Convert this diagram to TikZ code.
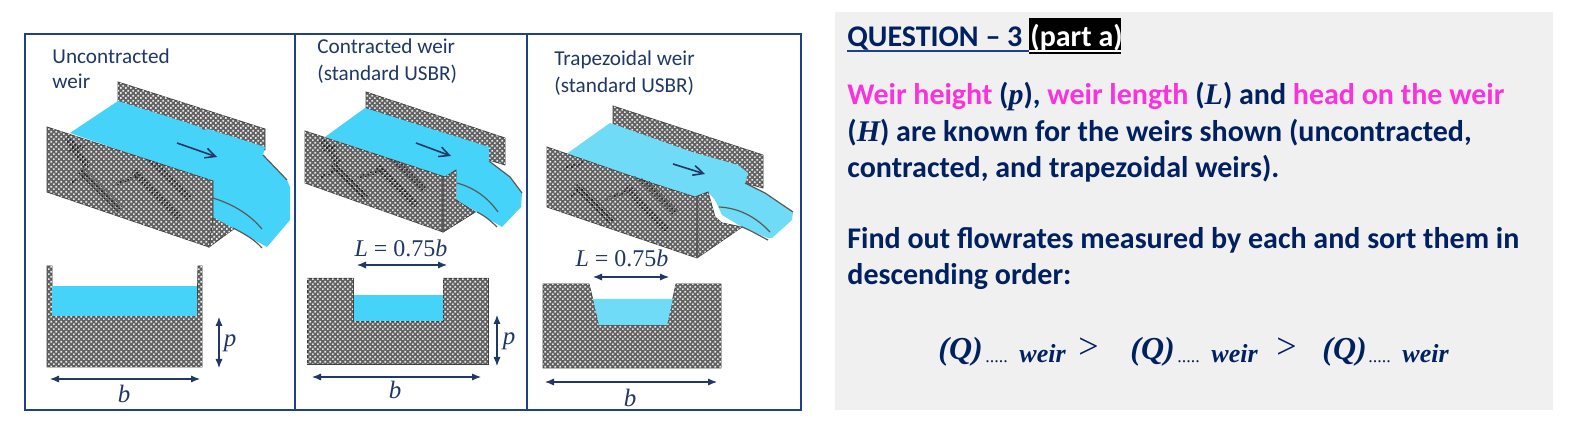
\documentclass[tikz,border=0pt]{standalone}
\usepackage{fontspec}
\usetikzlibrary{patterns,arrows.meta}
\setmainfont{Carlito}
\newfontfamily\mathfam{Liberation Serif}
\definecolor{navy}{HTML}{002060}
\definecolor{labelc}{HTML}{1F3864}
\definecolor{framec}{HTML}{1F3F86}
\definecolor{magentac}{HTML}{FA32DC}
\definecolor{panelc}{HTML}{F0F0F0}
\definecolor{waterA}{HTML}{45D3FA}
\definecolor{waterB}{HTML}{6FDBF6}
\definecolor{wallbase}{HTML}{626262}
\pgfdeclarepatternformonly{weirdots}{\pgfpointorigin}{\pgfqpoint{2.4pt}{2.4pt}}{\pgfqpoint{2.4pt}{2.4pt}}{
  \pgfpathrectangle{\pgfqpoint{0pt}{0pt}}{\pgfqpoint{.9pt}{.9pt}}
  \pgfpathrectangle{\pgfqpoint{1.2pt}{1.2pt}}{\pgfqpoint{.9pt}{.9pt}}
  \pgfusepath{fill}}
\tikzset{
  wall/.style={fill=wallbase,postaction={pattern=weirdots,pattern color=white!92!black},draw=black!75,line width=.4pt},
  blotfill/.style={pattern=weirdots,pattern color=black!85},
  waterI/.style={fill=waterA,draw=none},
  waterII/.style={fill=waterB,draw=none},
  nappe/.style={draw=black!65,line width=.6pt},
  flow/.style={draw=labelc,line width=.8pt,-{Straight Barb[length=5pt,width=5pt]}},
  dim/.style={draw=labelc,line width=.55pt,{Latex[length=4.5pt,width=3.6pt]}-{Latex[length=4.5pt,width=3.6pt]}},
  lbl/.style={anchor=base west,inner sep=0,text=labelc,font=\fontsize{10.6}{12}\selectfont},
  sym/.style={anchor=base,inner sep=0,text=labelc,font=\mathfam\fontsize{12}{13}\selectfont},
  symi/.style={anchor=base,inner sep=0,text=labelc,font=\mathfam\itshape\fontsize{12.5}{13}\selectfont},
  body/.style={anchor=base west,inner sep=0,text=navy,font=\bfseries\fontsize{15}{17}\selectfont},
  frameline/.style={draw=framec,line width=.65pt}
}
\newcommand{\mi}[1]{{\mathfam\bfseries\itshape #1}}
\newcommand{\mg}[1]{\textcolor{magentac}{#1}}
\newcommand{\wband}[4]{\fill[blotfill] ({#1-5},{#2}) -- ({#1},{#2-5}) -- ({#3+5},{#4}) -- ({#3},{#4+5}) -- cycle;}
\begin{document}
\begin{tikzpicture}[x=0.5pt,y=-0.5pt]
\useasboundingbox (0,0) rectangle (1573,437);
\fill[white] (0,0) rectangle (1573,437);
% right panel
\fill[panelc] (835,12) rectangle (1553,410);
% frames
\draw[frameline] (25,34) rectangle (801,410);
\draw[frameline] (295,34) -- (295,410);
\draw[frameline] (527,34) -- (527,410);
\node[lbl] (t1a) at (52,64) {Uncontracted};
\node[lbl] (t1b) at (52,89) {weir};
\node[lbl] (t2a) at (317,54) {Contracted weir};
\node[lbl] (t2b) at (317,81) {(standard USBR)};
\node[lbl] (t3a) at (554,66) {Trapezoidal weir};
\node[lbl] (t3b) at (554,93) {(standard USBR)};

% ---- weir 1
\draw[wall] (118,82) -- (265,129) -- (265,150) -- (118,104) -- cycle;
\draw[wall] (209,247) -- (235,228) -- (213,216) -- cycle;
\fill[waterI] (70,133) -- (118,101) -- (200,127) -- (203,130) -- (208,129) -- (265,147) -- (263,155) -- (287,180) -- (290,187) -- (290,220) -- (267,247) -- (233,228) -- (213,217) -- (213,182) -- cycle;
\draw[nappe] (263,155) -- (287,180);
\draw[nappe] (213,198) .. controls (235,205) and (250,215) .. (262,229);
\draw[nappe] (233,228) .. controls (245,234) and (255,240) .. (262,248);
\draw[wall] (47,127) -- (213,181) -- (213,218) -- (209,247) -- (47,192) -- cycle;
\begin{scope}
\clip (47,127) -- (213,181) -- (213,218) -- (209,247) -- (47,192) -- cycle;
\wband{70}{153}{83}{143}\wband{70}{187}{83}{173}\wband{83}{173}{117}{207}\wband{117}{187}{137}{173}\wband{137}{173}{177}{217}\wband{137}{147}{187}{197}\wband{70}{140}{85}{165}
\end{scope}
\coordinate (f1a) at (177,143); \coordinate (f1b) at (217,157);
\draw[flow] (f1a) -- (f1b);
\draw[wall] (47,266) -- (52,266) -- (52,316) -- (197,316) -- (198,266) -- (202,266) -- (202,367) -- (47,367) -- cycle;
\fill[waterI] (52,286) rectangle (197,316);
\coordinate (p1a) at (219,317); \coordinate (p1b) at (219,368);
\draw[dim] (p1a) -- (p1b);
\node[symi] (p1) at (230,347) {p};
\coordinate (b1a) at (50,379); \coordinate (b1b) at (200,379);
\draw[dim] (b1a) -- (b1b);
\node[symi] (b1) at (124,403) {b};

% ---- weir 2
\draw[wall] (366,92) -- (505,138) -- (505,165) -- (489,160) -- (489,148) -- (366,108) -- cycle;
\draw[wall] (443,232) -- (475,212) -- (456,200) -- (443,200) -- cycle;
\fill[waterI] (325,137) -- (365,108) -- (489,147) -- (489,161) -- (510,177) -- (522,193) -- (521,207) -- (502,227) -- (477,212) -- (457,200) -- (456,170) -- (445,177) -- cycle;
\draw[nappe] (489,161) -- (510,177) -- (522,193);
\draw[nappe] (457,183) .. controls (475,188) and (488,198) .. (498,212);
\draw[nappe] (477,212) .. controls (485,216) and (491,221) .. (497,227);
\draw[wall] (305,131) -- (445,177) -- (456,170) -- (456,200) -- (475,212) -- (443,232) -- (305,183) -- cycle;
\draw[nappe] (443,177) -- (443,232);
\begin{scope}
\clip (305,131) -- (445,177) -- (443,232) -- (305,183) -- cycle;
\wband{324}{152}{335}{144}\wband{324}{179}{335}{168}\wband{335}{168}{363}{195}\wband{363}{179}{380}{168}\wband{380}{168}{413}{203}\wband{380}{147}{421}{187}\wband{324}{141}{337}{161}
\end{scope}
\coordinate (f2a) at (416,143); \coordinate (f2b) at (451,156);
\draw[flow] (f2a) -- (f2b);
\node[sym] (L2) at (401,257) {\textit{L} = 0.75\textit{b}};
\coordinate (L2a) at (357,265); \coordinate (L2b) at (447,265);
\draw[dim] (L2a) -- (L2b);
\draw[wall] (307,278) -- (353,278) -- (353,321) -- (443,321) -- (443,278) -- (488,278) -- (488,364) -- (307,364) -- cycle;
\fill[waterI] (353.5,295) rectangle (443,321);
\coordinate (p2a) at (497,315); \coordinate (p2b) at (497,366);
\draw[dim] (p2a) -- (p2b);
\node[symi] (p2) at (509,345) {p};
\coordinate (b2a) at (312,377); \coordinate (b2b) at (481,377);
\draw[dim] (b2a) -- (b2b);
\node[symi] (b2) at (395,399) {b};

% ---- weir 3
\draw[wall] (613,106) -- (763,155) -- (763,188) -- (745,183) -- (613,133) -- cycle;
\fill[waterII] (565,155) -- (610,123) -- (692,152) -- (738,165) -- (748,173) -- (745,183) -- (765,193) -- (793,212) -- (792,220) -- (772,238) -- (768,238) -- (742,227) -- (722,215) -- (715,200) -- (708,192) -- (695,197) -- (648,182) -- cycle;
\draw[nappe] (745,183) -- (765,193) -- (793,212);
\draw[nappe] (719,207) .. controls (738,208) and (755,216) .. (770,232);
\draw[nappe] (742,227) .. controls (752,231) and (760,236) .. (768,240);
\draw[wall] (547,147) -- (648,182) -- (695,197) -- (708,192) -- (715,217) -- (722,223) -- (742,227) -- (697,258) -- (547,207) -- cycle;
\draw[nappe] (697,197) -- (697,258);
\begin{scope}
\clip (547,147) -- (697,197) -- (697,258) -- (547,207) -- cycle;
\wband{568}{170}{579}{161}\wband{568}{201}{579}{188}\wband{579}{188}{610}{219}\wband{610}{201}{628}{188}\wband{628}{188}{664}{228}\wband{628}{165}{673}{210}
\end{scope}
\coordinate (f3a) at (673,164); \coordinate (f3b) at (705,174);
\draw[flow] (f3a) -- (f3b);
\node[sym] (L3) at (622,267) {\textit{L} = 0.75\textit{b}};
\coordinate (L3a) at (593,277); \coordinate (L3b) at (669,277);
\draw[dim] (L3a) -- (L3b);
\draw[wall] (543,284) -- (589,284) -- (599,325) -- (667,325) -- (676,284) -- (721,284) -- (721,368) -- (543,368) -- cycle;
\fill[waterII] (593,299) -- (673,299) -- (667,325) -- (599,325) -- cycle;
\coordinate (b3a) at (545,382); \coordinate (b3b) at (717,382);
\draw[dim] (b3a) -- (b3b);
\node[symi] (b3) at (630,407) {b};

% ---- right text
\node[body] (q) at (847,47) {QUESTION – 3};
\fill[black] (1029,18) rectangle (1121,54);
\node[body] at (1030,47) {\textcolor{white}{(part a)}};
\coordinate (u1) at (847,51); \coordinate (u2) at (1029,51); \coordinate (u3) at (1121,51);
\draw[framec,line width=1pt] (u1) -- (u2);
\draw[white,line width=1pt] (u2) -- (u3);
\node[body] (l1) at (847,105) {\mg{Weir height} (\mi{p}), \mg{weir length} (\mi{L}) and \mg{head on the weir}};
\node[body] (l2) at (847,142) {(\mi{H}) are known for the weirs shown (uncontracted,};
\node[body] (l3) at (847,178) {contracted, and trapezoidal weirs).};
\node[body] (l4) at (847,249) {Find out flowrates measured by each and sort them in};
\node[body] (l5) at (847,285) {descending order:};
\tikzset{qq/.style={anchor=base west,inner sep=0,text=navy,font=\mathfam\bfseries\itshape\fontsize{16}{17}\selectfont},
 qd/.style={anchor=base west,inner sep=0,text=navy,font=\mathfam\fontsize{9}{10}\selectfont},
 qs/.style={anchor=base west,inner sep=0,text=navy,font=\mathfam\bfseries\itshape\fontsize{13}{15}\selectfont},
 qg/.style={anchor=base west,inner sep=0,text=navy,font=\mathfam\fontsize{18}{19}\selectfont}}
\node[qq] (q1) at (938,360) {(Q)};
\node[qd] (d1) at (985,363) {.....};
\node[qs] (w1) at (1019,363) {weir};
\node[qg] (g1) at (1078,359) {>};
\node[qq] (q2) at (1130,360) {(Q)};
\node[qd] (d2) at (1177,363) {.....};
\node[qs] (w2) at (1211,363) {weir};
\node[qg] (g2) at (1276,359) {>};
\node[qq] (q3) at (1322,360) {(Q)};
\node[qd] (d3) at (1368,363) {.....};
\node[qs] (w3) at (1402,363) {weir};
\end{tikzpicture}
\end{document}
